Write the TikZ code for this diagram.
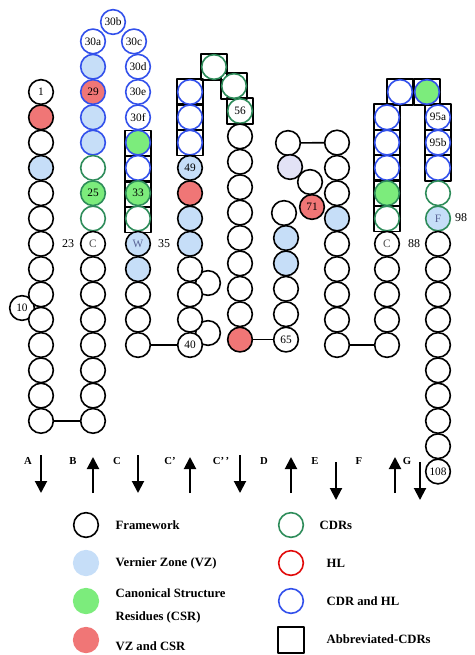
\documentclass[tikz,border=0pt]{standalone}
\usepackage{fontspec}
\setmainfont{Liberation Serif}
\usepackage{xcolor}
\usetikzlibrary{arrows.meta}

\definecolor{vz}{RGB}{198,222,248}
\definecolor{csr}{RGB}{124,236,124}
\definecolor{vzcsr}{RGB}{240,118,118}
\definecolor{lilla}{RGB}{226,226,246}
\definecolor{cdr}{RGB}{46,140,90}
\definecolor{hl}{RGB}{225,10,10}
\definecolor{cdrhl}{RGB}{50,80,235}
\definecolor{testoW}{RGB}{90,100,150}

\tikzset{
    res/.style={circle, draw=black, fill=white, line width=1.2pt, minimum size=18.5pt, inner sep=0pt, font=\fontsize{8.5}{9}\selectfont},
    cdrres/.style={res, draw=cdr},
    hlres/.style={res, draw=cdrhl},
    abbr/.style={draw=black, line width=1.2pt, minimum size=19.5pt, inner sep=0pt},
    nota/.style={font=\fontsize{9}{10}\selectfont},
    lettera/.style={font=\bfseries\fontsize{8}{9}\selectfont},
    voce/.style={anchor=west, align=left, font=\bfseries\fontsize{9.5}{17}\selectfont},
    freccia/.style={-{Triangle[width=9pt,length=9pt]}, line width=1.5pt},
}

\begin{document}
\begin{tikzpicture}[x=0.75pt, y=-0.75pt, line join=round]

    \useasboundingbox (0,0) rectangle (474,655);

    % Riquadri (CDR abbreviate)
    \foreach \x/\y [count=\i] in {138/143.6, 138/168.9, 138/194.2, 138/219.5,
        190/92, 190/117.3, 190/142.6, 214/67, 234/86, 240/111,
        400/92, 427/92, 387/117.3, 387/142.6, 387/167.9, 387/193.2, 387/218.5,
        438/117.3, 438/142.6, 438/167.9}
        \node[abbr] (box\i) at (\x,\y) {};

    % Residui sporgenti
    \node[res] (a10) at (22,308) {10};
    \node[res] (dx1) at (208,283) {};
    \node[res] (dx2) at (208,333) {};

    % Filamento A
    \node[res] (a0) at (41,92) {1};
    \node[res, fill=vzcsr] (a1) at (41,117.3) {};
    \node[res] (a2) at (41,142.6) {};
    \node[res, fill=vz] (a3) at (41,167.9) {};
    \foreach \k in {4,...,13}
        \node[res] (a\k) at (41,{92+25.3*\k}) {};

    % Filamento B
    \node[hlres] (b30b) at (113,22) {30b};
    \node[hlres] (b30a) at (93,41.4) {30a};
    \node[hlres, fill=vz] (bm) at (93,66.7) {};
    \node[hlres, fill=vzcsr] (b0) at (93,92) {29};
    \node[hlres, fill=vz] (b1) at (93,117.3) {};
    \node[hlres, fill=vz] (b2) at (93,142.6) {};
    \node[cdrres] (b3) at (93,167.9) {};
    \node[cdrres, fill=csr] (b4) at (93,193.2) {25};
    \node[cdrres] (b5) at (93,218.5) {};
    \node[res, text=black!70] (b6) at (93,243.8) {C};
    \foreach \k in {7,...,13}
        \node[res] (b\k) at (93,{92+25.3*\k}) {};

    % Filamento C
    \node[hlres] (c30c) at (134,41.4) {30c};
    \node[hlres] (cm) at (138,66.7) {30d};
    \node[hlres] (c0) at (138,92) {30e};
    \node[hlres] (c1) at (138,117.3) {30f};
    \node[hlres, fill=csr] (c2) at (138,142.6) {};
    \node[hlres] (c3) at (138,167.9) {};
    \node[cdrres, fill=csr] (c4) at (138,193.2) {33};
    \node[cdrres] (c5) at (138,218.5) {};
    \node[res, fill=vz, text=testoW] (c6) at (138,243.8) {W};
    \node[res, fill=vz] (c7) at (138,269.1) {};
    \foreach \k in {8,9,10}
        \node[res] (c\k) at (138,{92+25.3*\k}) {};

    % Filamento C'
    \foreach \k in {0,1,2}
        \node[hlres] (d\k) at (190,{92+25.3*\k}) {};
    \node[res, fill=vz] (d3) at (190,167.9) {49};
    \node[res, fill=vzcsr] (d4) at (190,193.2) {};
    \node[res, fill=vz] (d5) at (190,218.5) {};
    \node[res, fill=vz] (d6) at (190,243.8) {};
    \foreach \k in {7,8,9}
        \node[res] (d\k) at (190,{92+25.3*\k}) {};
    \node[res] (d10) at (190,345) {40};

    % Ansa C'-C''
    \node[cdrres] (cc1) at (214,67) {};
    \node[cdrres] (cc2) at (234,86) {};

    % Filamento C''
    \node[cdrres] (e0) at (240,111) {56};
    \foreach \j in {1,...,8}
        \node[res] (e\j) at (240,{111+25.4*\j}) {};
    \node[res, fill=vzcsr] (e9) at (240,339.6) {};

    % Filamento D
    \node[res] (f0) at (288,143) {};
    \node[res, fill=lilla] (f1) at (290,167) {};
    \node[res] (f2) at (310,182) {};
    \node[res, fill=vzcsr] (f3) at (312,207) {71};
    \node[res] (f4) at (284,213) {};
    \node[res, fill=vz] (f5) at (286,238) {};
    \node[res, fill=vz] (f6) at (286,263.4) {};
    \node[res] (f7) at (286,288.8) {};
    \node[res] (f8) at (286,314.2) {};
    \node[res] (f9) at (286,339.6) {65};

    % Filamento E
    \foreach \k in {2,3,4,6,7,8,9,10}
        \node[res] (g\k) at (337,{92+25.3*\k}) {};
    \node[res, fill=vz] (g5) at (337,218.5) {};

    % Filamento F
    \node[hlres] (hx) at (400,92) {};
    \node[hlres, fill=csr] (hy) at (427,92) {};
    \foreach \k in {1,2,3}
        \node[hlres] (h\k) at (387,{92+25.3*\k}) {};
    \node[cdrres, fill=csr] (h4) at (387,193.2) {};
    \node[cdrres] (h5) at (387,218.5) {};
    \node[res, text=black!70] (h6) at (387,243.8) {C};
    \foreach \k in {7,...,10}
        \node[res] (h\k) at (387,{92+25.3*\k}) {};

    % Filamento G
    \node[hlres] (i1) at (438,117.3) {95a};
    \node[hlres] (i2) at (438,142.6) {95b};
    \node[hlres] (i3) at (438,167.9) {};
    \node[cdrres] (i4) at (438,193.2) {};
    \node[cdrres, fill=vz, text=testoW] (i5) at (438,218.5) {F};
    \foreach \k in {6,...,14}
        \node[res] (i\k) at (438,{92+25.3*\k}) {};
    \node[res] (i15) at (438,471.5) {108};

    % Collegamenti
    \draw[line width=1.2pt] (a13) -- (b13);
    \draw[line width=1.2pt] (c10) -- (d10);
    \draw[line width=1.2pt] (e9) -- (f9);
    \draw[line width=1.2pt] (f0) -- (g2);
    \draw[line width=1.2pt] (g10) -- (h10);

    % Numerazione
    \node[nota] (n23) at (68,244) {23};
    \node[nota] (n35) at (164,244) {35};
    \node[nota] (n88) at (414,244) {88};
    \node[nota] (n98) at (461,218) {98};

    % Frecce dei filamenti
    \foreach \x/\ya/\yb/\lx/\nome [count=\i] in {41/455/493/28/A, 93/493/457/73/B,
        138/455/493/117/C, 190/493/457/170/C\textquoteright,
        240/455/493/221/C\textquoteright\kern1pt\textquoteright,
        291/493/457/264/D, 336/462/500/315/E, 395/493/457/359/F, 420/462/500/407/G} {
        \coordinate (p\i) at (\x,\ya);
        \coordinate (q\i) at (\x,\yb);
        \draw[freccia] (p\i) -- (q\i);
        \node[lettera] (l\i) at (\lx,461) {\nome};
    }

    % Legenda
    \node[res, fill=none] (k1) at (86,525) {};
    \node[res, draw=vz, fill=vz] (k2) at (86,563) {};
    \node[res, draw=csr, fill=csr] (k3) at (86,601) {};
    \node[res, draw=vzcsr, fill=vzcsr] (k4) at (86,640) {};
    \node[voce] (t1) at (111,525) {Framework};
    \node[voce] (t2) at (111,563) {Vernier Zone (VZ)};
    \node[voce] (t3) at (111,606) {Canonical Structure\\Residues (CSR)};
    \node[voce] (t4) at (111,646) {VZ and CSR};

    \node[res, fill=none, draw=cdr] (k5) at (291,525) {};
    \node[res, fill=none, draw=hl] (k6) at (291,563) {};
    \node[res, fill=none, draw=cdrhl] (k7) at (291,601) {};
    \node[abbr, line width=1.6pt] (k8) at (291,640) {};
    \node[voce] (t5) at (315,525) {CDRs};
    \node[voce] (t6) at (322,563) {HL};
    \node[voce] (t7) at (322,601) {CDR and HL};
    \node[voce] (t8) at (322,639) {Abbreviated-CDRs};

\end{tikzpicture}
\end{document}
